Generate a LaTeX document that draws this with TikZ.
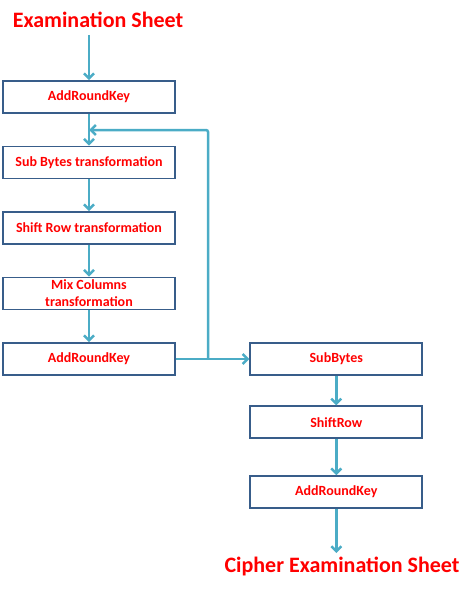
\documentclass[tikz,border=0pt]{standalone}
\usepackage{fontspec}
\setmainfont{Carlito}
\usepackage{tikz}
\usetikzlibrary{arrows.meta,positioning}
\definecolor{boxline}{HTML}{385D8A}
\definecolor{flowline}{HTML}{4BACC6}
\definecolor{labelred}{HTML}{FF0000}
\tikzstyle{flow}=[
	-{Straight Barb[length=5pt,width=10pt]},
	draw=flowline,
	line width=2.5pt
]
\tikzstyle{stagebox}=[
	node distance=31.7pt,
	draw=boxline,
	line width=1.8pt,
	fill=white,
	minimum width=172pt,
	minimum height=32pt,
	inner sep=1pt,
	align=center,
	text=labelred,
	font=\bfseries\fontsize{14}{17}\selectfont
]
\tikzstyle{sheet}=[
	inner sep=1pt,
	text=labelred,
	font=\bfseries\fontsize{22}{26}\selectfont
]

\begin{document}
\begin{tikzpicture}[x=1pt,y=-1pt]
\useasboundingbox (0,0) rectangle (474,594);
\node[sheet] (plain) at (98,20) {Examination Sheet};
\node[stagebox] (ark1) at (89,97) {AddRoundKey};
\node[stagebox, below=of ark1] (subt) {Sub Bytes transformation};
\node[stagebox, below=of subt] (shiftt) {Shift Row transformation};
\node[stagebox, below=of shiftt] (mixt) {Mix Columns\\transformation};
\node[stagebox, below=of mixt] (ark2) {AddRoundKey};
\node[stagebox, right=73.5pt of ark2] (subb) {SubBytes};
\node[stagebox, below=29.5pt of subb] (shiftr) {ShiftRow};
\node[stagebox, below=36pt of shiftr] (ark3) {AddRoundKey};
\node[sheet] (cipher) at (342,566) {Cipher Examination Sheet};

\coordinate (start) at (89,35);
\coordinate (turn) at (208,130);
\coordinate (split) at (ark2.east -| turn);
\coordinate (merge) at (ark1.south |- turn);
\coordinate (finish) at (ark3.south |- 0,553);

\draw[flow] (start) to (ark1);
\draw[flow] (ark1) to (subt);
\draw[flow] (subt) to (shiftt);
\draw[flow] (shiftt) to (mixt);
\draw[flow] (mixt) to (ark2);
\draw[flow] (ark2) to (subb);
\draw[flow, rounded corners=2pt] (split) -- (turn) -- (merge);
\draw[flow] (subb) to (shiftr);
\draw[flow] (shiftr) to (ark3);
\draw[flow] (ark3) to (finish);
\end{tikzpicture}
\end{document}
